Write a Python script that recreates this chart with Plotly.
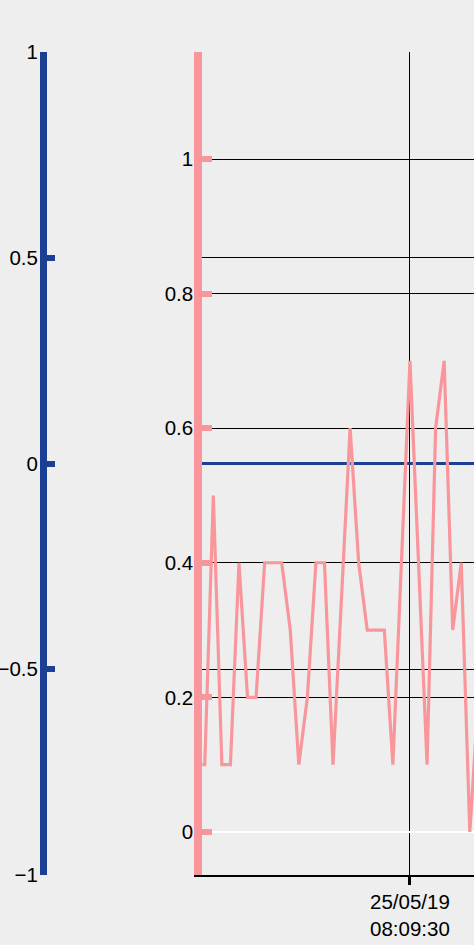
import plotly.graph_objects as go

# ---- data (one sample per second, a few seconds missing)
times = [
    "2019-05-25 08:09:05", "2019-05-25 08:09:06", "2019-05-25 08:09:07",
    "2019-05-25 08:09:08", "2019-05-25 08:09:09", "2019-05-25 08:09:10",
    "2019-05-25 08:09:11", "2019-05-25 08:09:12", "2019-05-25 08:09:13",
    "2019-05-25 08:09:14", "2019-05-25 08:09:15", "2019-05-25 08:09:16",
    "2019-05-25 08:09:17", "2019-05-25 08:09:18", "2019-05-25 08:09:19",
    "2019-05-25 08:09:20", "2019-05-25 08:09:21", "2019-05-25 08:09:23",
    "2019-05-25 08:09:24", "2019-05-25 08:09:25", "2019-05-25 08:09:26",
    "2019-05-25 08:09:27", "2019-05-25 08:09:28", "2019-05-25 08:09:30",
    "2019-05-25 08:09:32", "2019-05-25 08:09:33", "2019-05-25 08:09:34",
    "2019-05-25 08:09:35", "2019-05-25 08:09:36", "2019-05-25 08:09:37",
    "2019-05-25 08:09:38",
]
values = [
    0.1, 0.1, 0.5, 0.1, 0.1, 0.4, 0.2, 0.2, 0.4, 0.4, 0.4, 0.3,
    0.1, 0.2, 0.4, 0.4, 0.1, 0.6, 0.4, 0.3, 0.3, 0.3, 0.1, 0.7,
    0.1, 0.6, 0.7, 0.3, 0.4, 0.0, 0.2,
]
x_ticks = ["2019-05-25 08:09:30"]
x_range = ["2019-05-25 08:09:05.71", "2019-05-25 08:09:37.49"]

PINK = "#f9969b"
BLUE = "#1b3f92"
BG = "#eeeeee"

fig = go.Figure()
fig.add_trace(go.Scatter(x=times, y=values, mode="lines",
                         line=dict(color=PINK, width=3.2), showlegend=False))
# empty trace so the second (blue) axis gets drawn
fig.add_trace(go.Scatter(x=[], y=[], yaxis="y2", showlegend=False))

fig.update_layout(
    width=474, height=945,
    margin=dict(l=43, r=0, t=52, b=70, autoexpand=False),
    paper_bgcolor=BG, plot_bgcolor=BG,
    font=dict(family="Arial, Liberation Sans", size=20.5, color="black"),
    xaxis=dict(
        domain=[0.3696, 1], range=x_range, type="date", automargin=False,
        tickvals=x_ticks, tickformat="%d/%m/%y<br>%H:%M:%S",
        showline=True, linecolor="black", linewidth=1.5,
        ticks="outside", tickcolor="black", ticklen=8, tickwidth=3,
        showgrid=True, gridcolor="black", gridwidth=1,
    ),
    yaxis=dict(
        range=[-0.064, 1.159], tick0=0, dtick=0.2, automargin=False,
        showline=True, linecolor=PINK, linewidth=8,
        ticks="inside", tickcolor=PINK, ticklen=10, tickwidth=6,
        ticklabelstandoff=-3,
        showgrid=True, gridcolor="black", gridwidth=1,
        zeroline=True, zerolinecolor="white", zerolinewidth=2,
    ),
    yaxis2=dict(
        overlaying="y", anchor="free", position=0, side="left",
        range=[-1, 1], dtick=0.5, automargin=False,
        showline=True, linecolor=BLUE, linewidth=7,
        ticks="inside", tickcolor=BLUE, ticklen=8, tickwidth=6,
        ticklabelstandoff=-2,
        showgrid=True, gridcolor="black", gridwidth=1,
        zeroline=True, zerolinecolor=BLUE, zerolinewidth=2.5,
    ),
)

# drop the browser's default body margin so the chart sits at the page corner
fig.write_html("out.html", config={"displayModeBar": False},
               post_script="document.body.style.margin='0px';")
